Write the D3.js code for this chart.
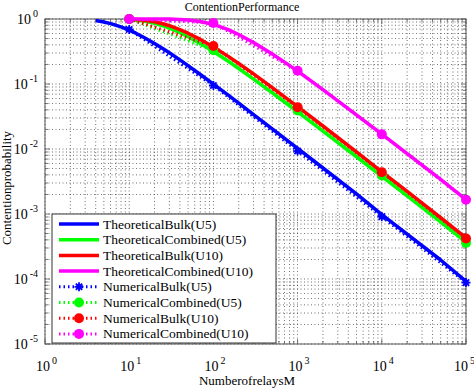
<!DOCTYPE html>
<html><head><meta charset="utf-8">
<script src="https://cdn.jsdelivr.net/npm/d3@7"></script>
<style>
body{margin:0;background:#fff;}
</style></head>
<body><svg id="c" width="474" height="389"></svg>
<script>
// ---- data ----
const title = "ContentionPerformance";
const xLabel = "NumberofrelaysM";
const yLabel = "Contentionprobability";
const xTickExps = [0,1,2,3,4,5];
const yTickExps = [0,-1,-2,-3,-4,-5];

const theoBulkU5_M = [4,5,6,7,8,10,12,15,20,25,30,40,50,70,100,150,200,300,500,700,1000,2000,5000,10000,20000,50000,100000];
const theoBulkU5_P = [0.95,0.90,0.85,0.80,0.755,0.675,0.605,0.52,0.42,0.352,0.302,0.235,0.192,0.140,0.0995,0.0672,0.0506,0.0339,0.0204,0.0146,0.0102,0.0051,0.00204,0.00098,0.00049,0.000196,0.000092];
const theoCombU5_M = [10,12,15,20,25,30,40,50,70,100,150,200,300,500,700,1000,2000,5000,10000,20000,50000,100000];
const theoCombU5_P = [0.982,0.963,0.927,0.858,0.788,0.724,0.618,0.536,0.421,0.317,0.224,0.173,0.119,0.0733,0.0529,0.0373,0.0188,0.0076,0.0038,0.0019,0.00076,0.00037];
const theoBulkU10_M = [10,12,15,20,25,30,40,50,70,100,150,200,300,500,700,1000,2000,5000,10000,20000,50000,100000];
const theoBulkU10_P = [0.992,0.982,0.958,0.905,0.845,0.788,0.688,0.605,0.485,0.372,0.266,0.207,0.143,0.0880,0.0635,0.0447,0.0226,0.0090,0.00445,0.00222,0.00088,0.00043];
const theoCombU10_M = [10,20,30,40,50,70,100,150,200,300,500,700,1000,2000,5000,10000,20000,50000,100000];
const theoCombU10_P = [1.0,1.0,0.997,0.986,0.968,0.913,0.825,0.685,0.578,0.436,0.29,0.217,0.158,0.082,0.0336,0.0169,0.0085,0.0034,0.00167];

const numM = [10,100,1000,10000,100000];
const numBulkU5 = [0.69,0.095,0.0093,0.00091,0.000088];
const numCombU5 = [1.0,0.33,0.039,0.0039,0.00036];
const numBulkU10 = [1.0,0.385,0.044,0.0044,0.00042];
const numCombU10 = [1.0,0.87,0.16,0.0168,0.00166];

const legendLabels = ["TheoreticalBulk(U5)","TheoreticalCombined(U5)","TheoreticalBulk(U10)","TheoreticalCombined(U10)",
  "NumericalBulk(U5)","NumericalCombined(U5)","NumericalBulk(U10)","NumericalCombined(U10)"];

// ---- layout ----
const FONT = "'Liberation Serif', 'DejaVu Serif', 'Times New Roman', Times, serif";
const svg = d3.select("#c").attr("font-family", FONT);
const L=45, R=466, T=19, B=344;
const x = d3.scaleLog().domain([1,1e5]).range([L,R]);
const y = d3.scaleLog().domain([1e-5,1]).range([B,T]);

const BLUE="#0000ff", GREEN="#00ff00", RED="#ff0000", MAG="#ff00ff";
const isMajor = d => Math.abs(Math.log10(d)-Math.round(Math.log10(d)))<1e-9;

// grid
const g = svg.append("g");
const minorX=[], minorY=[];
for(let e=0;e<5;e++) for(let k=1;k<10;k++) minorX.push(k*Math.pow(10,e));
minorX.push(1e5);
for(let e=-5;e<0;e++) for(let k=1;k<10;k++) minorY.push(k*Math.pow(10,e));
minorY.push(1);
g.selectAll(".gx").data(minorX).enter().append("line")
  .attr("x1",d=>x(d)).attr("x2",d=>x(d)).attr("y1",T).attr("y2",B)
  .attr("stroke","#000").attr("stroke-width",0.8).attr("stroke-dasharray","1,2.5").attr("opacity",0.7);
g.selectAll(".gy").data(minorY).enter().append("line")
  .attr("y1",d=>y(d)).attr("y2",d=>y(d)).attr("x1",L).attr("x2",R)
  .attr("stroke","#000").attr("stroke-width",0.8).attr("stroke-dasharray","1,2.5").attr("opacity",0.7);

// ticks (inside)
const tk = svg.append("g").attr("stroke","#555").attr("stroke-width",0.8);
minorX.forEach(d=>{
  const len = isMajor(d) ? 5 : 3;
  tk.append("line").attr("x1",x(d)).attr("x2",x(d)).attr("y1",B).attr("y2",B-len);
  tk.append("line").attr("x1",x(d)).attr("x2",x(d)).attr("y1",T).attr("y2",T+len);
});
minorY.forEach(d=>{
  const len = isMajor(d) ? 5 : 3;
  tk.append("line").attr("y1",y(d)).attr("y2",y(d)).attr("x1",L).attr("x2",L+len);
  tk.append("line").attr("y1",y(d)).attr("y2",y(d)).attr("x1",R).attr("x2",R-len);
});

// frame
svg.append("rect").attr("x",L).attr("y",T).attr("width",R-L).attr("height",B-T)
  .attr("fill","none").attr("stroke","#555").attr("stroke-width",1);

// tick labels
const xl = svg.append("g").attr("font-size",14).attr("fill","#000").attr("font-family",FONT);
xTickExps.forEach(e=>{
  const t = xl.append("text").attr("x",x(Math.pow(10,e))-9-(e===5?3:0)).attr("y",371).attr("text-anchor","start");
  t.append("tspan").text("10");
  t.append("tspan").attr("dy",-7).attr("dx",2).attr("font-size",10).text(e);
});
yTickExps.forEach(e=>{
  const t = xl.append("text").attr("x",38).attr("y",y(Math.pow(10,e))+5).attr("text-anchor","end");
  t.append("tspan").text("10");
  t.append("tspan").attr("dy",-7).attr("dx",2).attr("font-size",10).text(e);
});

// labels
svg.append("text").attr("x",242).attr("y",11).attr("text-anchor","middle").attr("font-size",12).attr("font-family",FONT).text(title);
svg.append("text").attr("x",247).attr("y",385).attr("text-anchor","middle").attr("font-size",13).attr("font-family",FONT).text(xLabel);
svg.append("text").attr("transform","translate(11,188) rotate(-90)").attr("text-anchor","middle").attr("font-size",12)
  .attr("textLength",114).attr("lengthAdjust","spacingAndGlyphs").attr("font-family",FONT).text(yLabel);

// lines
const line = d3.line().x(d=>x(d[0])).y(d=>y(d[1]));
const zip=(a,b)=>a.map((v,i)=>[v,b[i]]);
const theo = [
  [theoBulkU5_M,theoBulkU5_P,BLUE],
  [theoCombU5_M,theoCombU5_P,GREEN],
  [theoBulkU10_M,theoBulkU10_P,RED],
  [theoCombU10_M,theoCombU10_P,MAG]
];
const num = [
  [numM,numBulkU5,BLUE,"star"],
  [numM,numCombU5,GREEN,"circle"],
  [numM,numBulkU10,RED,"circle"],
  [numM,numCombU10,MAG,"circle"]
];
theo.forEach(s=>{
  svg.append("path").attr("d",line(zip(s[0],s[1]))).attr("fill","none")
    .attr("stroke",s[2]).attr("stroke-width",3.5).attr("stroke-linejoin","round");
});
function marker(sel,type,cx,cy,col,sz){
  if(type==="circle"){
    sel.append("circle").attr("cx",cx).attr("cy",cy).attr("r",sz).attr("fill",col);
  } else {
    sel.append("circle").attr("cx",cx).attr("cy",cy).attr("r",sz*0.6).attr("fill",col);
    for(let a=0;a<4;a++){
      const ang=a*Math.PI/4;
      sel.append("line").attr("x1",cx-Math.cos(ang)*sz).attr("x2",cx+Math.cos(ang)*sz)
        .attr("y1",cy-Math.sin(ang)*sz).attr("y2",cy+Math.sin(ang)*sz).attr("stroke",col).attr("stroke-width",1.8);
    }
  }
}
num.forEach(s=>{
  const pts = zip(s[0],s[1]);
  svg.append("path").attr("d",line(pts)).attr("fill","none")
    .attr("stroke",s[2]).attr("stroke-width",3).attr("stroke-dasharray","1.5,3");
  const mg = svg.append("g");
  pts.forEach(p=>marker(mg,s[3],x(p[0]),y(p[1]),s[2],s[3]==="circle"?5:4.5));
});

// legend
const lg = svg.append("g");
lg.append("rect").attr("x",52).attr("y",214).attr("width",224).attr("height",129)
  .attr("fill","#fff").attr("stroke","#333").attr("stroke-width",1);
const legCols=[BLUE,GREEN,RED,MAG,BLUE,GREEN,RED,MAG];
legendLabels.forEach((lab,i)=>{
  const cy = 224 + i*15.7;
  if(i<4){
    lg.append("line").attr("x1",59).attr("x2",99).attr("y1",cy).attr("y2",cy)
      .attr("stroke",legCols[i]).attr("stroke-width",3.5);
  } else {
    lg.append("line").attr("x1",59).attr("x2",99).attr("y1",cy).attr("y2",cy)
      .attr("stroke",legCols[i]).attr("stroke-width",3).attr("stroke-dasharray","1.5,3");
    marker(lg,i===4?"star":"circle",79,cy,legCols[i],i===4?4.5:5);
  }
  lg.append("text").attr("x",103).attr("y",cy+4.5).attr("font-size",13.5).attr("font-family",FONT).text(lab);
});
</script></body></html>
